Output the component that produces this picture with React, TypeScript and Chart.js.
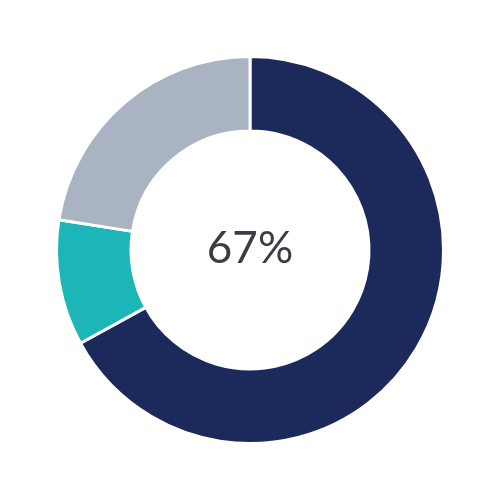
import { useEffect, useRef } from 'react'
import { Chart, registerables, type Plugin } from 'chart.js'

Chart.register(...registerables)

const LABELS = ['Navy', 'Teal', 'Gray']
const VALUES = [67, 10.5, 22.5]
const COLORS = ['#1b2a5a', '#1cb5b8', '#a9b3c2']
const CENTER_TEXT = '67%'

const centerText: Plugin<'doughnut'> = {
  id: 'centerText',
  afterDraw(chart) {
    const { ctx, chartArea } = chart
    const x = (chartArea.left + chartArea.right) / 2
    const y = (chartArea.top + chartArea.bottom) / 2
    ctx.save()
    ctx.font = "400 44px Lato, 'Noto Sans', sans-serif"
    ctx.fillStyle = '#3a3d45'
    ctx.textAlign = 'center'
    ctx.textBaseline = 'alphabetic'
    ctx.fillText(CENTER_TEXT, x, y + 13)
    ctx.restore()
  },
}

export default function App() {
  const canvasRef = useRef<HTMLCanvasElement>(null)

  useEffect(() => {
    if (!canvasRef.current) return
    const chart = new Chart(canvasRef.current, {
      type: 'doughnut',
      data: {
        labels: LABELS,
        datasets: [
          {
            data: VALUES,
            backgroundColor: COLORS,
            borderColor: '#ffffff',
            borderWidth: 3,
          },
        ],
      },
      options: {
        responsive: true,
        maintainAspectRatio: false,
        animation: false,
        cutout: '61.5%',
        layout: { padding: 55 },
        plugins: {
          legend: { display: false },
          tooltip: { enabled: false },
        },
      },
      plugins: [centerText],
    })
    return () => chart.destroy()
  }, [])

  return (
    <div style={{ position: 'absolute', top: 0, left: 0, width: 500, height: 500, background: '#fff' }}>
      <canvas ref={canvasRef} />
    </div>
  )
}
